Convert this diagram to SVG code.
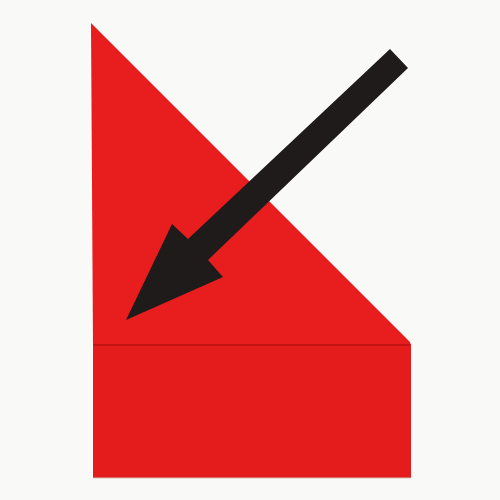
<svg xmlns="http://www.w3.org/2000/svg" width="500" height="500" viewBox="0 0 500 500">
<style>
.paper{fill:#e41c1c}
.flap{fill:#e81d1e}
.fold{stroke:#b81212;stroke-width:1.5;fill:none}
.arrow{fill:#1f1b1b}
</style>
<rect width="500" height="500" fill="#f9f9f8"/>
<g id="paper">
<rect class="paper" x="93" y="344" width="318" height="134"/>
<rect x="93" y="477" width="318" height="1.5" fill="#c9a49a" opacity="0.6"/>
</g>
<g id="flap">
<polygon class="flap" points="91,23 93,346 411,346 410,342"/>
<line class="fold" x1="93" y1="345" x2="410" y2="345"/>
</g>
<g id="arrow">
<polygon class="arrow" points="390,49 408,68 208,260 223,277 126,320 172,224 188,239"/>
</g>
</svg>
